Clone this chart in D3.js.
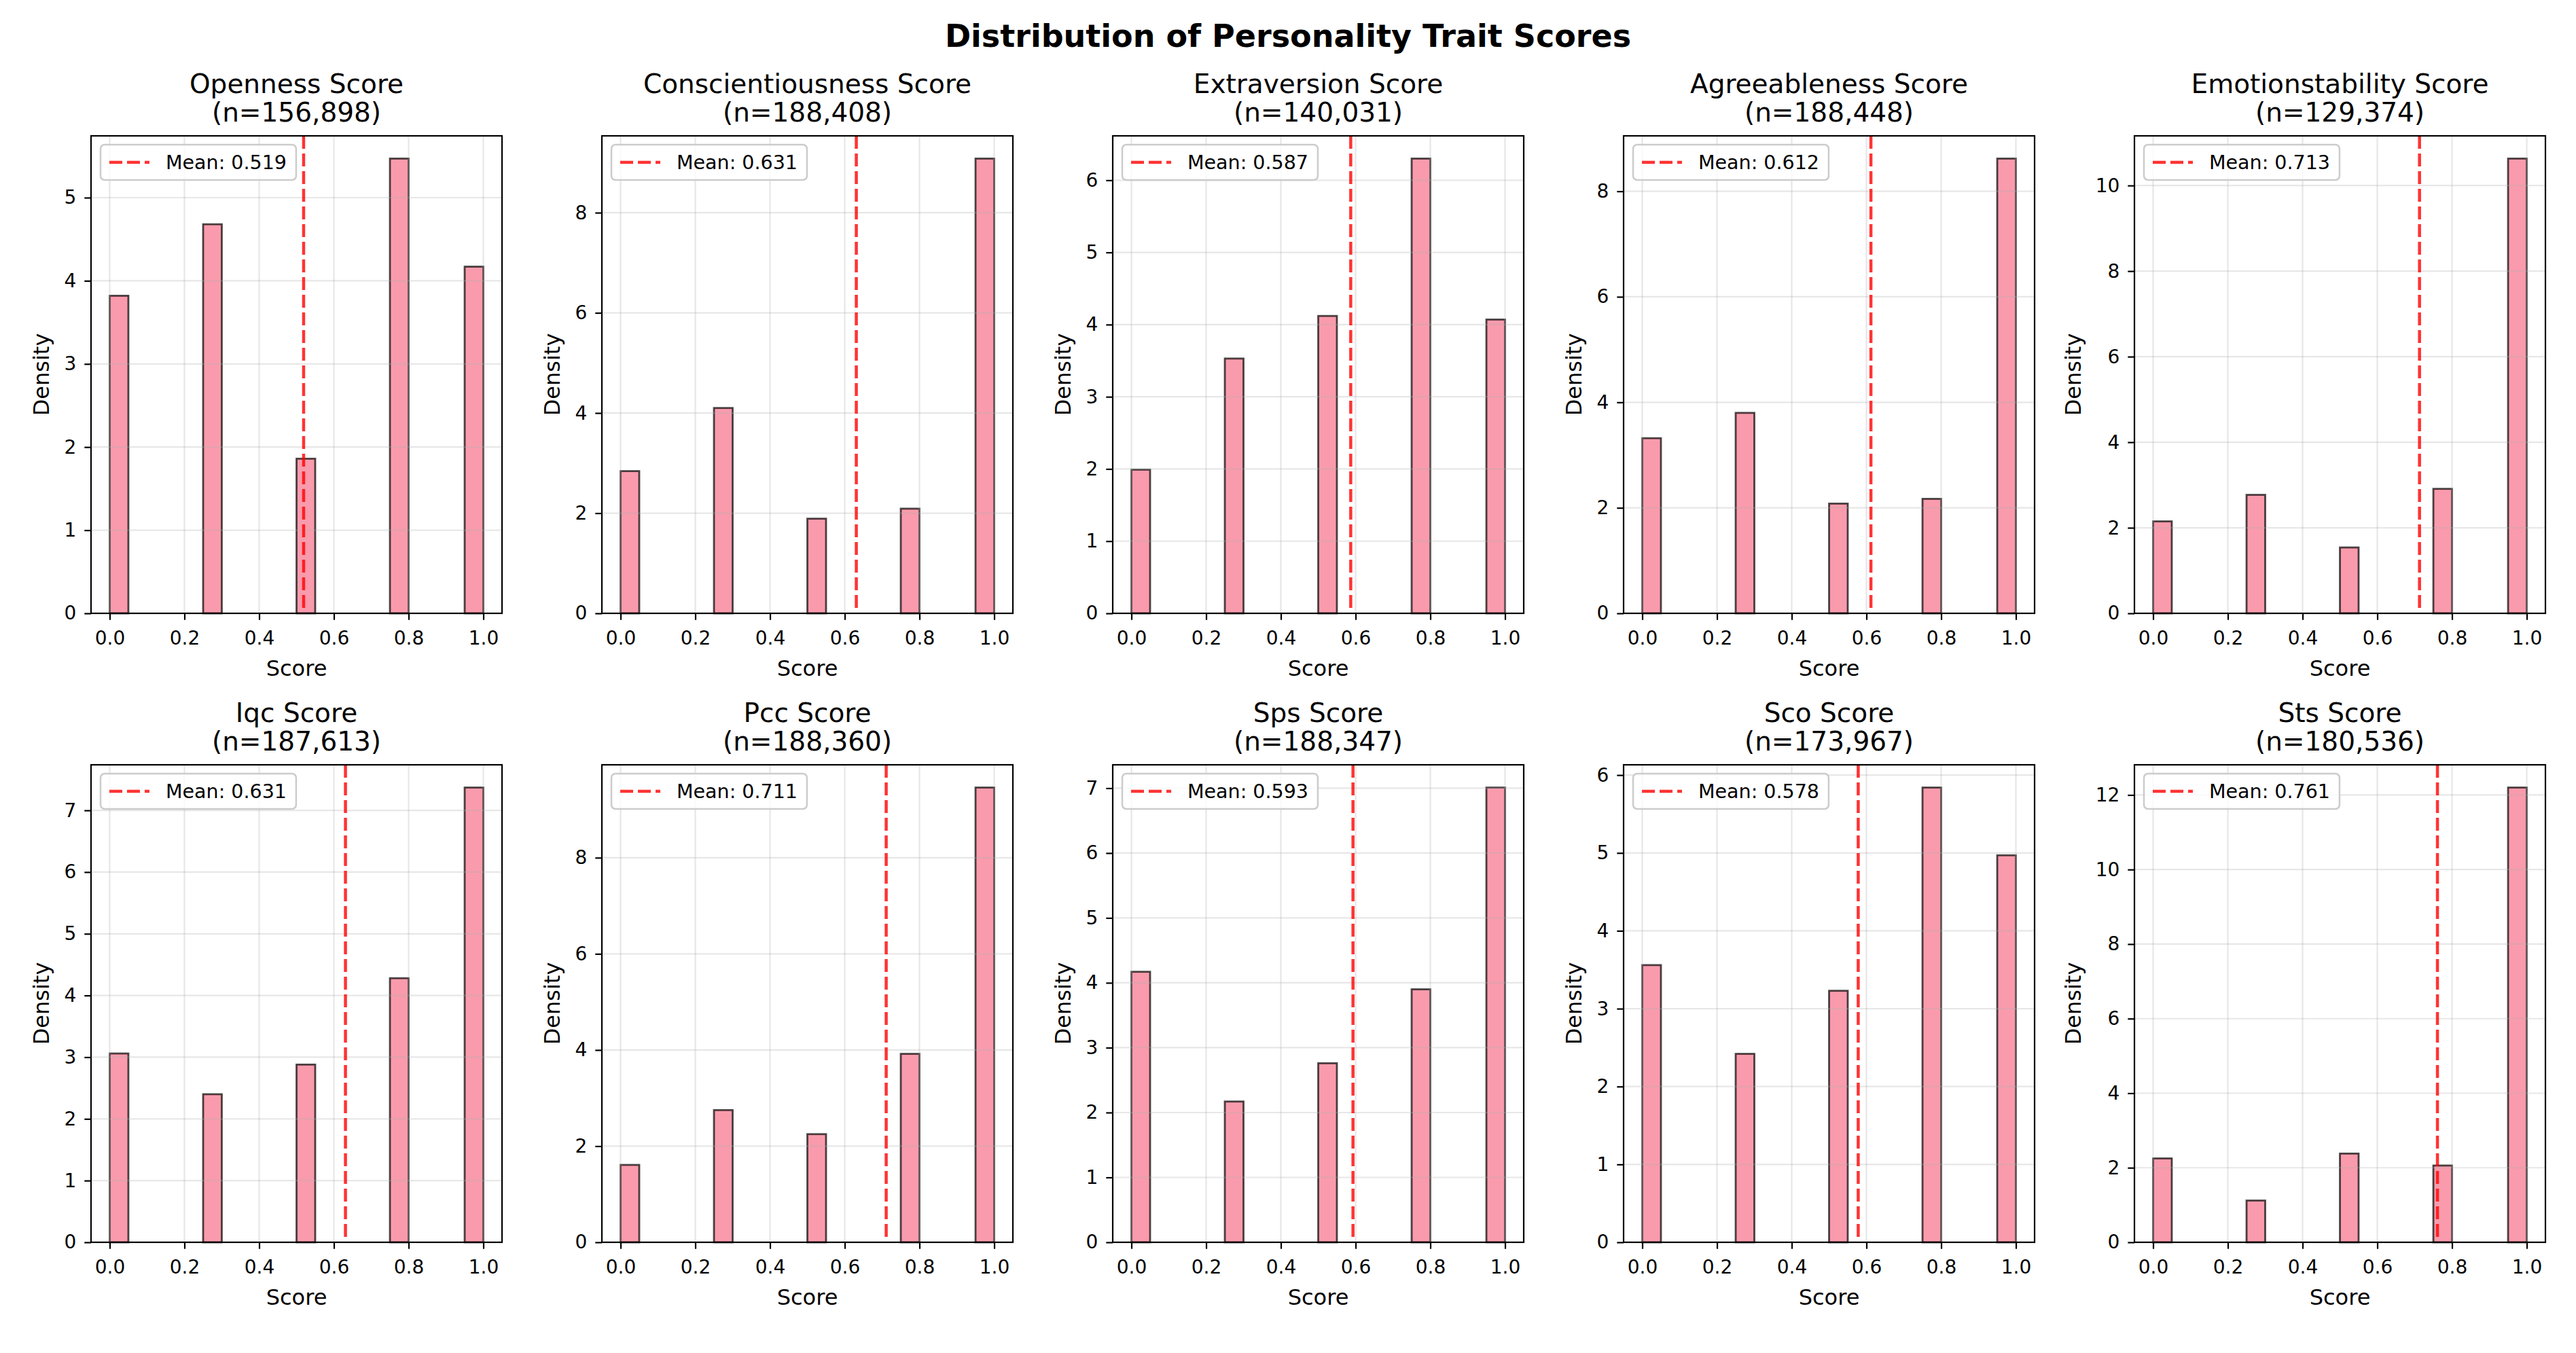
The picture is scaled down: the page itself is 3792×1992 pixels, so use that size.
<!DOCTYPE html>
<html>
<head>
<meta charset="utf-8">
<script src="https://cdn.jsdelivr.net/npm/d3@7"></script>
<style>
  html, body { margin: 0; padding: 0; background: #fff; }
  svg { display: block; font-family: "DejaVu Sans", sans-serif; }
</style>
</head>
<body>
<div id="chart"></div>
<script>
// 1: DATA
const traits = ["Openness", "Conscientiousness", "Extraversion", "Agreeableness", "Emotionstability",
                "Iqc", "Pcc", "Sps", "Sco", "Sts"];
const sampleSizes = [156898, 188408, 140031, 188448, 129374, 187613, 188360, 188347, 173967, 180536];
const means = [0.519, 0.631, 0.587, 0.612, 0.713, 0.631, 0.711, 0.593, 0.578, 0.761];

// only five of the 20 bins hold data; bin starts and widths
const binStarts = [0.0, 0.25, 0.5, 0.75, 0.95];
const binWidth = 0.05;

// density per bin, one row per trait
const densities = [
    [3.82, 4.68, 1.86, 5.47, 4.17],
    [2.84, 4.10, 1.89, 2.09, 9.08],
    [1.99, 3.53, 4.12, 6.30, 4.07],
    [3.32, 3.80, 2.08, 2.17, 8.62],
    [2.15, 2.77, 1.54, 2.91, 10.63],
    [3.06, 2.40, 2.88, 4.28, 7.37],
    [1.61, 2.75, 2.25, 3.92, 9.46],
    [4.17, 2.17, 2.76, 3.90, 7.01],
    [3.56, 2.42, 3.23, 5.84, 4.97],
    [2.25, 1.12, 2.38, 2.06, 12.20]
];

const xTicks = [0, 0.2, 0.4, 0.6, 0.8, 1.0];

// 2: LAYOUT
const W = 3792, H = 1992;
const cols = 5;
const plotLeft = 134, colStep = 752, plotW = 605;
const plotTop = 200, rowStep = 926, plotH = 703;

const barColor = "#f77189";
const tickFont = 28;

const svg = d3.select("#chart")
    .append("svg")
    .attr("width", W)
    .attr("height", H);

svg.append("rect").attr("width", W).attr("height", H).attr("fill", "#fff");

// Figure title
svg.append("text")
    .attr("x", W / 2)
    .attr("y", 69)
    .attr("text-anchor", "middle")
    .style("font-size", "46px")
    .style("font-weight", "bold")
    .text("Distribution of Personality Trait Scores");

const fmtN = d3.format(",");

// 3: ONE PANEL PER TRAIT
traits.forEach((trait, i) => {
    const col = i % cols, row = Math.floor(i / cols);
    const g = svg.append("g")
        .attr("transform", `translate(${plotLeft + col * colStep},${plotTop + row * rowStep})`);

    const bins = binStarts.map((x0, j) => ({ x0, x1: x0 + binWidth, density: densities[i][j] }));

    const x = d3.scaleLinear().domain([-0.05, 1.05]).range([0, plotW]);
    const yMax = d3.max(bins, d => d.density) * 1.05;
    const y = d3.scaleLinear().domain([0, yMax]).range([plotH, 0]);
    const yTicks = y.ticks(6);

    // bars
    g.selectAll(".bar")
        .data(bins)
        .enter()
        .append("rect")
        .attr("class", "bar")
        .attr("x", d => x(d.x0))
        .attr("y", d => y(d.density))
        .attr("width", d => x(d.x1) - x(d.x0))
        .attr("height", d => y(0) - y(d.density))
        .attr("fill", barColor)
        .attr("fill-opacity", 0.7)
        .attr("stroke", "#000")
        .attr("stroke-opacity", 0.7)
        .attr("stroke-width", 2.8);

    // grid (drawn above bars, like matplotlib)
    g.append("g")
        .selectAll("line")
        .data(xTicks)
        .enter()
        .append("line")
        .attr("x1", d => x(d)).attr("x2", d => x(d))
        .attr("y1", 0).attr("y2", plotH)
        .attr("stroke", "#b0b0b0").attr("stroke-opacity", 0.3).attr("stroke-width", 2.2);

    g.append("g")
        .selectAll("line")
        .data(yTicks)
        .enter()
        .append("line")
        .attr("x1", 0).attr("x2", plotW)
        .attr("y1", d => y(d)).attr("y2", d => y(d))
        .attr("stroke", "#b0b0b0").attr("stroke-opacity", 0.3).attr("stroke-width", 2.2);

    // mean line
    g.append("line")
        .attr("x1", x(means[i])).attr("x2", x(means[i]))
        .attr("y1", 0).attr("y2", plotH)
        .attr("stroke", "red")
        .attr("stroke-opacity", 0.8)
        .attr("stroke-width", 4.5)
        .attr("stroke-dasharray", "19,7");

    // spines
    g.append("rect")
        .attr("width", plotW).attr("height", plotH)
        .attr("fill", "none").attr("stroke", "#000").attr("stroke-width", 2.2);

    // axes
    const xAxis = g.append("g")
        .attr("transform", `translate(0,${plotH})`)
        .call(d3.axisBottom(x).tickValues(xTicks).tickFormat(d3.format(".1f"))
            .tickSize(9.7).tickPadding(16));

    const yAxis = g.append("g")
        .call(d3.axisLeft(y).tickValues(yTicks).tickFormat(d3.format("d"))
            .tickSize(9.7).tickPadding(12));

    [xAxis, yAxis].forEach(a => {
        a.select(".domain").remove();
        a.selectAll(".tick line").attr("stroke", "#000").attr("stroke-width", 2.2);
        a.selectAll(".tick text")
            .attr("fill", "#000")
            .style("font-family", "DejaVu Sans")
            .style("font-size", tickFont + "px");
    });

    // titles
    const title = g.append("text")
        .attr("text-anchor", "middle")
        .style("font-size", "39px");
    title.append("tspan").attr("x", plotW / 2).attr("y", -63).text(`${trait} Score`);
    title.append("tspan").attr("x", plotW / 2).attr("y", -21).text(`(n=${fmtN(sampleSizes[i])})`);

    // x label
    g.append("text")
        .attr("x", plotW / 2)
        .attr("y", plotH + 92)
        .attr("text-anchor", "middle")
        .style("font-size", "32px")
        .text("Score");

    // y label, placed left of the widest tick label
    let minLeft = 0;
    yAxis.selectAll(".tick text").each(function () {
        const b = this.getBBox();
        const tr = this.parentNode.getAttribute("transform");
        minLeft = Math.min(minLeft, b.x);
    });
    g.append("text")
        .attr("transform", `translate(${minLeft - 22},${plotH / 2}) rotate(-90)`)
        .attr("text-anchor", "middle")
        .style("font-size", "32px")
        .text("Density");

    // legend
    const legend = g.append("g").attr("transform", "translate(14,13)");
    const box = legend.append("rect")
        .attr("rx", 6).attr("ry", 6)
        .attr("height", 52)
        .attr("fill", "#fff").attr("fill-opacity", 0.8)
        .attr("stroke", "#cccccc").attr("stroke-width", 2.5);
    legend.append("line")
        .attr("x1", 13).attr("x2", 72)
        .attr("y1", 26).attr("y2", 26)
        .attr("stroke", "red").attr("stroke-opacity", 0.8)
        .attr("stroke-width", 4.5).attr("stroke-dasharray", "19,7");
    const lt = legend.append("text")
        .attr("x", 96).attr("y", 36)
        .style("font-size", "28.5px")
        .text(`Mean: ${means[i].toFixed(3)}`);
    box.attr("width", 96 + lt.node().getComputedTextLength() + 14);
});
</script>
</body>
</html>
